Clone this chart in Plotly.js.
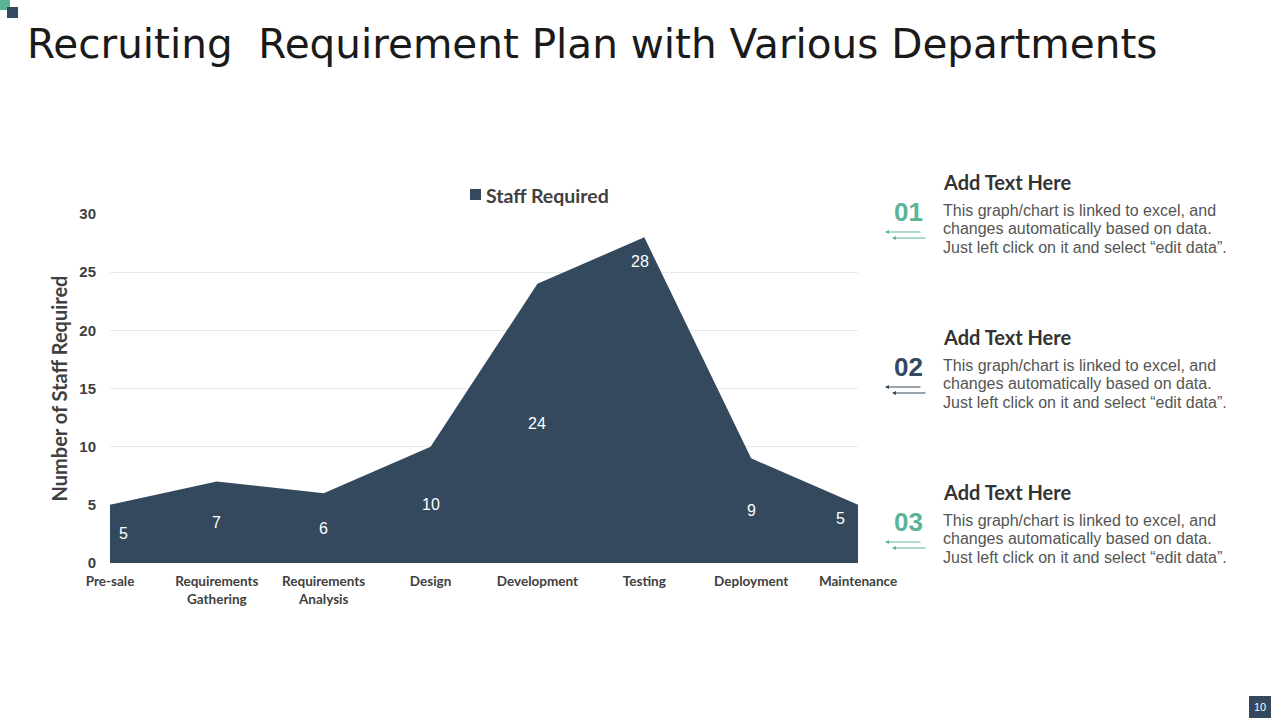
<!DOCTYPE html>
<html>
<head>
<meta charset="utf-8">
<script src="https://cdn.plot.ly/plotly-3.0.1.min.js"></script>
<style>
html,body{margin:0;padding:0;background:#fff;}
#chart{width:1280px;height:720px;}
</style>
</head>
<body>
<div id="chart"></div>
<script>
const categories = ["Pre-sale", "Requirements<br>Gathering", "Requirements<br>Analysis", "Design", "Development", "Testing", "Deployment", "Maintenance"];
const staffRequired = [5, 7, 6, 10, 24, 28, 9, 5];
const seriesName = "Staff Required";
const yTicks = [0, 5, 10, 15, 20, 25, 30];
const pageTitle = "Recruiting  Requirement Plan with Various Departments";
const sideHeads = ["Add Text Here", "Add Text Here", "Add Text Here"];
const sideNums = ["01", "02", "03"];
const sideBodyLines = ["This graph/chart is linked to excel, and", "changes automatically based on data.", "Just left click on it and select \u201cedit data\u201d."];
const pageNum = "10";

const NAVY = "#34495e";
const GREEN = "#5bb594";
const L = 110, R = 858, T = 214, B = 563;
const W = 1280, H = 720;
const px = x => (x - L) / (R - L);
const py = y => (B - y) / (B - T);

const xIdx = categories.map((c, i) => i);

const trace = {
  x: xIdx,
  y: staffRequired,
  type: "scatter",
  mode: "lines",
  line: {width: 0, color: NAVY},
  fill: "tozeroy",
  fillcolor: NAVY,
  name: seriesName,
  showlegend: false,
  hoverinfo: "skip"
};

const annotations = [];
const shapes = [];

// data labels (mid-height of each value, with small adjustments where the original placed them differently)
staffRequired.forEach((v, i) => {
  let yy = v / 2, xs = 0;
  if (i === 0) xs = 13;
  if (i === staffRequired.length - 1) { xs = -18; yy = v * 0.77; }
  if (v === Math.max(...staffRequired)) { yy = v - 2.1; xs = -4; }
  annotations.push({
    x: i, y: yy, xref: "x", yref: "y", xshift: xs,
    text: String(v), showarrow: false,
    font: {family: "Liberation Sans, Arial", size: 16, color: "#ffffff"}
  });
});

// title
annotations.push({
  x: px(25), y: py(44), xref: "paper", yref: "paper",
  text: pageTitle, showarrow: false, xanchor: "left", yanchor: "middle",
  font: {family: "DejaVu Sans, sans-serif", size: 40.5, color: "#1a1a1a"}
});

// legend
shapes.push({type: "rect", xref: "paper", yref: "paper",
  x0: px(470), x1: px(481), y0: py(200), y1: py(189),
  fillcolor: NAVY, line: {width: 0}});
annotations.push({
  x: px(484), y: py(195), xref: "paper", yref: "paper",
  text: "<b>" + seriesName + "</b>", showarrow: false, xanchor: "left", yanchor: "middle",
  font: {family: "Lato, sans-serif", size: 19.5, color: "#404040"}
});

// right side blocks
sideNums.forEach((n, k) => {
  const off = k * 155;
  const col = (k === 1) ? NAVY : GREEN;
  annotations.push({
    x: px(941), y: py(182 + off), xref: "paper", yref: "paper",
    text: "<b>" + sideHeads[k] + "</b>", showarrow: false, xanchor: "left", yanchor: "middle",
    font: {family: "Lato, sans-serif", size: 20, color: "#333333"}
  });
  annotations.push({
    x: px(908), y: py(212 + off), xref: "paper", yref: "paper",
    text: "<b>" + n + "</b>", showarrow: false, xanchor: "center", yanchor: "middle",
    font: {family: "Liberation Sans, Arial", size: 26, color: col}
  });
  sideBodyLines.forEach((ln, j) => {
    annotations.push({
      x: px(941), y: py(210 + j * 18.5 + off), xref: "paper", yref: "paper",
      text: ln, showarrow: false, xanchor: "left", yanchor: "middle", align: "left",
      font: {family: "Liberation Sans, Arial", size: 16, color: "#555555"}
    });
  });
  // arrows
  [[885, 232, 922], [892, 238, 927]].forEach(a => {
    annotations.push({
      x: px(a[0]), y: py(a[1] + off), xref: "paper", yref: "paper",
      ax: px(a[2]), ay: py(a[1] + off), axref: "paper", ayref: "paper",
      text: "", showarrow: true, arrowhead: 2, arrowsize: 0.8, arrowwidth: 1,
      arrowcolor: col, standoff: 0
    });
  });
});

// corner squares
shapes.push({type: "rect", xref: "paper", yref: "paper",
  x0: px(0), x1: px(10), y0: py(10), y1: py(0), fillcolor: GREEN, line: {width: 0}});
shapes.push({type: "rect", xref: "paper", yref: "paper",
  x0: px(7), x1: px(18), y0: py(18), y1: py(7), fillcolor: NAVY, line: {width: 0}});

// page number
shapes.push({type: "rect", xref: "paper", yref: "paper",
  x0: px(1249), x1: px(1271), y0: py(718), y1: py(696), fillcolor: NAVY, line: {width: 0}});
annotations.push({
  x: px(1260), y: py(707), xref: "paper", yref: "paper",
  text: pageNum, showarrow: false, xanchor: "center", yanchor: "middle",
  font: {family: "Liberation Sans, Arial", size: 11, color: "#ffffff"}
});

const layout = {
  width: W, height: H,
  margin: {l: L, r: W - R, t: T, b: H - B, pad: 0},
  paper_bgcolor: "#ffffff",
  plot_bgcolor: "#ffffff",
  showlegend: false,
  xaxis: {
    range: [0, categories.length - 1],
    tickmode: "array", tickvals: xIdx, ticktext: categories.map(c => "<b>" + c + "</b>"),
    showgrid: false, zeroline: false, showline: false,
    ticks: "outside", ticklen: 6, tickcolor: "rgba(0,0,0,0)",
    tickfont: {family: "Lato, sans-serif", size: 13.5, color: "#404040"},
    fixedrange: true
  },
  yaxis: {
    range: [0, 30],
    tickmode: "array", tickvals: yTicks, ticktext: yTicks.map(t => "<b>" + t + "</b>"),
    showgrid: true, gridcolor: "#e9e9e9", gridwidth: 1,
    zeroline: false, showline: false,
    ticks: "outside", ticklen: 10, tickcolor: "rgba(0,0,0,0)",
    tickfont: {family: "Liberation Sans, Arial", size: 15, color: "#404040"},
    title: {text: "<b>Number of Staff Required</b>", standoff: 6,
      font: {family: "Lato, sans-serif", size: 20, color: "#404040"}},
    fixedrange: true
  },
  annotations: annotations,
  shapes: shapes
};

Plotly.newPlot("chart", [trace], layout, {displayModeBar: false, staticPlot: true});
</script>
</body>
</html>
